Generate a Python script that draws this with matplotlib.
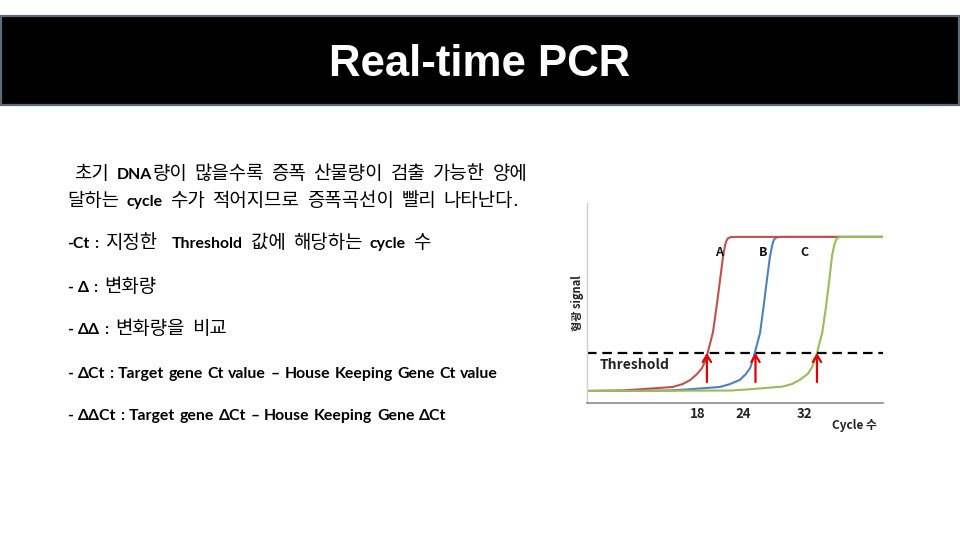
import re
import matplotlib
matplotlib.use("Agg")
import matplotlib.pyplot as plt
from matplotlib.patches import Rectangle

# slide text
title = "Real-time PCR"
lines = [
    " 초기 DNA량이 많을수록 증폭 산물량이 검출 가능한 양에",
    "달하는 cycle 수가 적어지므로 증폭곡선이 빨리 나타난다.",
    "-Ct : 지정한  Threshold 값에 해당하는 cycle 수",
    "- Δ : 변화량",
    "- ΔΔ : 변화량을 비교",
    "- ΔCt : Target gene Ct value – House Keeping Gene Ct value",
    "- ΔΔCt : Target gene ΔCt – House Keeping Gene ΔCt",
]
line_y = [179, 206, 248, 292, 334, 378, 420]   # baselines, px from top

# amplification curves (cycle, signal 0..100)
cycle_a = [3.4, 8.0, 10.4, 14.7, 16.0, 17.0, 17.9, 18.55, 19.0, 19.3, 20.0, 20.5, 20.9, 21.3, 21.6, 21.8, 22.0, 22.4, 23.2, 42.6]
signal_a = [0.0, 0.3, 1.1, 2.6, 4.5, 7.1, 11.0, 14.9, 19.5, 24.7, 38.3, 55.8, 70.8, 86.4, 94.8, 97.8, 99.2, 99.9, 100, 100]
cycle_b = [3.4, 14.2, 16.6, 20.9, 22.2, 23.5, 24.3, 24.9, 25.2, 25.5, 26.2, 26.7, 27.1, 27.5, 27.8, 28.0, 28.2, 28.6, 29.4, 42.6]
signal_b = [0.0, 0.3, 1.0, 2.6, 4.4, 7.1, 10.8, 14.9, 19.5, 24.7, 37.7, 56.0, 72.0, 87.0, 94.5, 97.8, 99.2, 99.9, 100, 100]
cycle_c = [3.4, 22.4, 24.8, 29.1, 30.4, 31.4, 32.5, 33.0, 33.4, 33.7, 34.4, 34.9, 35.3, 35.7, 36.0, 36.2, 36.4, 36.8, 37.6, 42.6]
signal_c = [0.0, 0.3, 1.1, 2.8, 4.5, 7.1, 11.2, 14.9, 19.5, 24.7, 38.0, 55.0, 71.0, 88.3, 95.0, 97.8, 99.4, 99.9, 100, 100]
curve_names = ["A", "B", "C"]
label_x = [20.8, 26.6, 32.1]
label_y = 89.6
threshold = 24.7
ct_arrow_x = [19.2, 25.6, 33.7]
xticks = [18, 24, 32]

W, H = 960, 540
fig = plt.figure(figsize=(9.6, 5.4), dpi=100)
fig.patch.set_facecolor("white")

# title bar
fig.patches.append(Rectangle((0.001, 1 - 105 / H), 0.998, 89 / H, transform=fig.transFigure,
                             facecolor="black", edgecolor="#5b6b7b", lw=1.6))
fig.text(0.5, 1 - 65 / H, title, color="white", fontsize=31.5, fontweight="bold",
         family="Liberation Sans", ha="center", va="center")

# body text: hangul and latin runs in different fonts
renderer = fig.canvas.get_renderer()
KO = dict(family=["Noto Sans CJK KR", "DejaVu Sans"], fontsize=13.6, fontweight=300)
EN = dict(family=["Lato", "DejaVu Sans"], fontsize=11.4, fontweight="bold")
KO_GAP, EN_GAP = 7, 4
hangul = re.compile(r"[\uac00-\ud7a3]")


def draw_line(x, y, s):
    runs = re.findall(r"\s+|[\uac00-\ud7a3]+|[^\s\uac00-\ud7a3]+", s)
    for i, r in enumerate(runs):
        if r.isspace():
            near_ko = any(hangul.search(runs[j]) for j in (i - 1, i + 1) if 0 <= j < len(runs))
            x += len(r) * (KO_GAP if near_ko else EN_GAP)
            continue
        props = KO if hangul.search(r) else EN
        t = fig.text(x / W, 1 - y / H, r, ha="left", va="baseline", color="black", **props)
        x = t.get_window_extent(renderer).x1 + 0.5


for s, y in zip(lines, line_y):
    draw_line(67, y, s)

# chart
ax = fig.add_axes([587 / W, 1 - 403 / H, 296 / W, 200 / H])
ax.plot(cycle_b, signal_b, color="#4f81bd", lw=1.5)
ax.plot(cycle_a, signal_a, color="#c0504d", lw=1.5)
ax.plot(cycle_c, signal_c, color="#9bbb59", lw=1.5)
ax.axhline(threshold, color="black", lw=1.6, ls=(0, (4.3, 2.6)))
for x in ct_arrow_x:
    ax.annotate("", xy=(x, threshold), xytext=(x, 5.8),
                arrowprops=dict(arrowstyle="->,head_length=0.5,head_width=0.3",
                                color="#e00000", lw=1.6, shrinkA=0, shrinkB=0))
for n, x in zip(curve_names, label_x):
    ax.text(x, label_y, n, ha="center", va="center", fontsize=9, fontweight="bold",
            family="Noto Sans CJK KR", color="#111111")
ax.text(5.1, 17, "Threshold", ha="left", va="center", fontsize=10, fontweight="bold",
        family="Noto Sans CJK KR", color="#222222")

ax.set_xlim(3.4, 42.4)
ax.set_ylim(-7.8, 122)
ax.set_xticks(xticks)
ax.set_xticklabels([str(v) for v in xticks], fontsize=9.5, fontweight="bold",
                   family="Noto Sans CJK KR", color="#222222")
ax.tick_params(axis="x", length=0, pad=3)
ax.set_yticks([])
for side in ["top", "right"]:
    ax.spines[side].set_visible(False)
ax.spines["left"].set_color("#d0d0d0")
ax.spines["bottom"].set_color("#8c8c8c")
ax.spines["left"].set_linewidth(1)
ax.spines["bottom"].set_linewidth(1.2)
ax.set_ylabel("형광 signal", fontsize=8, fontweight="bold", family="Noto Sans CJK KR",
              color="#222222", labelpad=2)
ax.text(0.905, -0.11, "Cycle 수", transform=ax.transAxes, ha="center", va="center",
        fontsize=8.5, fontweight="bold", family="Noto Sans CJK KR", color="#222222")

fig.savefig("out.png", dpi=100)
